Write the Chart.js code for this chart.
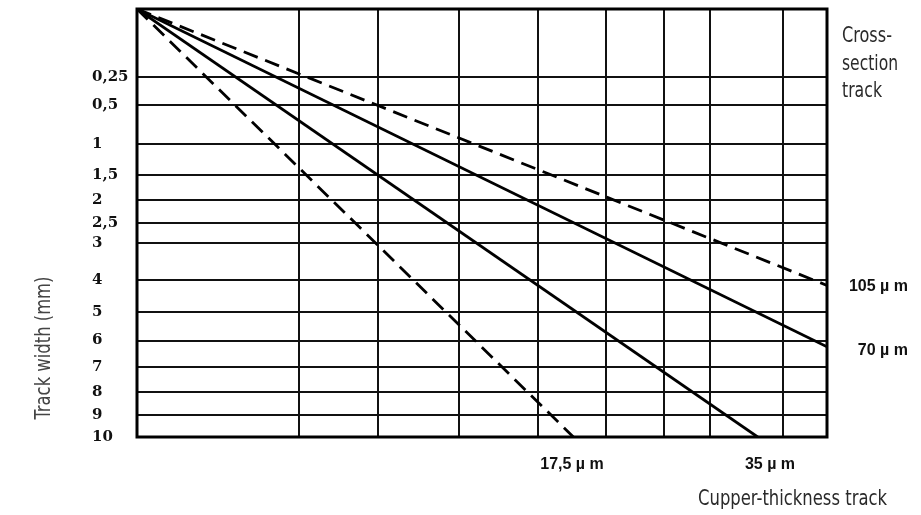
<!DOCTYPE html>
<html lang="en">
<head>
  <meta charset="UTF-8" />
  <title>Track width vs cross-section</title>
  <script src="https://cdn.jsdelivr.net/npm/chart.js"></script>
  <style>
    html, body { margin: 0; padding: 0; background: #fff; }
    #chart { display: block; }
  </style>
</head>
<body>
  <canvas id="chart" width="921" height="515"></canvas>

  <script>
    // y axis: track width (mm), drawn on a square-root scale, 0 at the top
    const widthTicks = [0.25, 0.5, 1, 1.5, 2, 2.5, 3, 4, 5, 6, 7, 8, 9, 10];
    const widthLabels = ['0,25', '0,5', '1', '1,5', '2', '2,5', '3', '4', '5', '6', '7', '8', '9', '10'];

    // x axis: cross-section (mm²), square-root scale, labels not shown in the picture
    const crossSectionGrid = [0.024, 0.053, 0.095, 0.147, 0.201, 0.254, 0.300, 0.381];
    const crossSectionMax = 0.435;

    // lines, one per copper thickness (start at the corner, end at the frame)
    const thicknessNames = ['17,5 µ m', '35 µ m', '70 µ m', '105 µ m'];
    const crossSection17 = [0, 0.174];
    const width17 = [0, 10];
    const crossSection35 = [0, 0.352];
    const width35 = [0, 10];
    const crossSection70 = [0, 0.435];
    const width70 = [0, 6.23];
    const crossSection105 = [0, 0.435];
    const width105 = [0, 4.17];

    const toPoints = (xs, ys) => xs.map((x, i) => ({ x: Math.sqrt(x), y: Math.sqrt(ys[i]) }));

    const series = [
      { data: toPoints(crossSection17, width17), dash: [15, 8] },
      { data: toPoints(crossSection35, width35), dash: [] },
      { data: toPoints(crossSection70, width70), dash: [] },
      { data: toPoints(crossSection105, width105), dash: [15, 8] }
    ];

    const datasets = series.map((s, i) => ({
      label: thicknessNames[i],
      data: s.data,
      borderColor: '#000',
      borderWidth: 2.8,
      borderDash: s.dash,
      pointRadius: 0,
      tension: 0,
      fill: false
    }));

    const sans = "'Liberation Sans Narrow', 'DejaVu Sans Condensed', sans-serif";

    // frame + free texts
    const annotate = {
      id: 'annotate',
      afterDatasetsDraw(chart) {
        const { ctx, chartArea: a } = chart;
        ctx.save();
        ctx.strokeStyle = '#000';
        ctx.lineWidth = 3;
        ctx.strokeRect(a.left, a.top, a.right - a.left, a.bottom - a.top);

        // thickness labels
        ctx.fillStyle = '#111';
        ctx.font = "bold 16px 'Liberation Sans', Arial, sans-serif";
        ctx.textBaseline = 'middle';
        ctx.textAlign = 'center';
        ctx.fillText(thicknessNames[0], 572, 465, 69);
        ctx.fillText(thicknessNames[1], 770, 465, 54);
        ctx.textAlign = 'right';
        ctx.fillText(thicknessNames[3], 908, 287, 62);
        ctx.fillText(thicknessNames[2], 908, 351, 54);

        // axis captions (squeezed to the narrow face of the original)
        ctx.fillStyle = '#2a2a2a';
        ctx.font = '21px ' + sans;
        ctx.textBaseline = 'alphabetic';
        ctx.textAlign = 'left';
        ctx.fillText('Cross-', 842, 42, 50);
        ctx.fillText('section', 842, 70, 56);
        ctx.fillText('track', 842, 97, 40);
        ctx.fillText('Cupper-thickness track', 698, 505, 189);

        ctx.translate(45, 348);
        ctx.rotate(-Math.PI / 2);
        ctx.textAlign = 'center';
        ctx.textBaseline = 'middle';
        ctx.fillStyle = '#444';
        ctx.fillText('Track width (mm)', 0, 0, 143);
        ctx.restore();
      }
    };

    new Chart(document.getElementById('chart'), {
      type: 'line',
      data: { datasets },
      plugins: [annotate],
      options: {
        responsive: false,
        animation: false,
        layout: { padding: { left: 92, top: 5, right: 94, bottom: 78 } },
        plugins: { legend: { display: false }, tooltip: { enabled: false } },
        scales: {
          x: {
            type: 'linear',
            min: 0,
            max: Math.sqrt(crossSectionMax),
            afterBuildTicks: scale => {
              scale.ticks = crossSectionGrid.map(v => ({ value: Math.sqrt(v) }));
            },
            afterFit: scale => { scale.height = 0; },
            ticks: { display: false },
            grid: { color: '#111', lineWidth: 2, drawTicks: false },
            border: { display: false }
          },
          y: {
            type: 'linear',
            reverse: true,
            min: 0,
            max: Math.sqrt(10),
            afterBuildTicks: scale => {
              scale.ticks = widthTicks.map(v => ({ value: Math.sqrt(v) }));
            },
            afterFit: scale => { scale.width = 45; },
            ticks: {
              crossAlign: 'far',
              padding: 0,
              color: '#111',
              font: { family: "'DejaVu Serif', serif", weight: 'bold', size: 15 },
              callback: (value, index) => widthLabels[index]
            },
            grid: { color: '#111', lineWidth: 2, drawTicks: false },
            border: { display: false }
          }
        }
      }
    });
  </script>
</body>
</html>
